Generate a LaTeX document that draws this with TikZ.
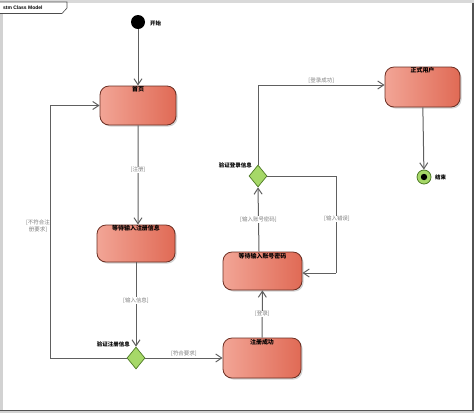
\documentclass[tikz,border=0pt]{standalone}
\usepackage{fontspec}
\newfontfamily\cjk{Noto Sans CJK SC}
\setsansfont{Liberation Sans}
\usetikzlibrary{arrows.meta,shadows,shapes.geometric}
\definecolor{stA}{HTML}{F2A596}
\definecolor{stB}{HTML}{E06A55}
\definecolor{stLine}{HTML}{6B2E22}
\definecolor{dmFill}{HTML}{A6D868}
\definecolor{dmLine}{HTML}{4E7A25}
\definecolor{edge}{HTML}{606060}
\definecolor{lbl}{HTML}{808080}
\tikzset{
  x=1bp,y=-1bp,
  state/.style={draw=stLine, line width=0.8bp, rounded corners=9bp, left color=stA, right color=stB,
    drop shadow={shadow xshift=1.5bp, shadow yshift=-1.5bp, opacity=0.35}, inner sep=0pt},
  stname/.style={font=\cjk\bfseries\fontsize{6}{7}\selectfont, inner sep=1pt, anchor=north},
  decision/.style={diamond, draw=dmLine, fill=dmFill, line width=0.7bp, minimum width=18bp, minimum height=22bp, inner sep=0pt, aspect=0.8},
  flow/.style={draw=edge, line width=1bp, -{Straight Barb[length=6bp,width=8bp]}},
  plain/.style={draw=edge, line width=1bp},
  guard/.style={font=\cjk\fontsize{5.5}{7}\selectfont, text=lbl, fill=white, inner sep=0.5pt},
  nodelbl/.style={font=\cjk\bfseries\fontsize{5.5}{7}\selectfont, inner sep=0pt},
}
\begin{document}
\begin{tikzpicture}
\useasboundingbox (0,0) rectangle (474,413);
% frame
\fill[gray!35] (0,0) rectangle (474,413);
\fill[gray!20!black!75] (0,0) rectangle (474,411);
\fill[gray!35] (0,0) rectangle (472,409.5);
\fill[white] (2.5,2.5) rectangle (471.5,409.5);
\fill[gray!30] (0,0) rectangle (474,2.5);
\draw[black!70, line width=0.6bp, fill=white] (0,2) -- (67,2) -- (67,8) -- (62,13.5) -- (0,13.5);
\node[font=\sffamily\bfseries\fontsize{5}{6}\selectfont, anchor=west, inner sep=0pt] (title) at (3,7.5) {stm Class Model};

% start / end
\node[circle, fill=black, minimum size=14bp, inner sep=0pt] (start) at (138,22) {};
\node[nodelbl, anchor=west] (startl) at (150,23) {开始};
\node[circle, draw=dmLine, fill=dmFill, line width=0.8bp, minimum size=14bp, inner sep=0pt] (end) at (424,177) {};
\fill[black] (end.center) circle (3.2bp);
\node[nodelbl, anchor=west] (endl) at (435,177) {结束};

% states
\node[state, minimum width=76bp, minimum height=39bp] (home) at (138,105.5) {};
\node[stname] at (home.north) {首页};
\node[state, minimum width=78bp, minimum height=37bp] (wreg) at (136,243.5) {};
\node[stname] at (wreg.north) {等待输入注册信息};
\node[state, minimum width=78bp, minimum height=40bp] (regok) at (262,358) {};
\node[stname] at (regok.north) {注册成功};
\node[state, minimum width=79bp, minimum height=38bp] (wlog) at (262.5,271) {};
\node[stname] at (wlog.north) {等待输入账号密码};
\node[state, minimum width=75bp, minimum height=40bp] (user) at (422.5,87) {};
\node[stname] at (user.north) {正式用户};

% decisions
\node[decision] (dreg) at (136,358) {};
\node[nodelbl, anchor=east] (dregl) at (130,344) {验证注册信息};
\node[decision] (dlog) at (258,176) {};
\node[nodelbl, anchor=east] (dlogl) at (252,165) {验证登录信息};

% connectors
\draw[flow] (start) -- (home);
\draw[flow] (home.south -| wreg.north) ++(2,0) -- ([xshift=2bp]wreg.north) node[guard, pos=0.45] {[注册]};
\draw[flow] (wreg) -- (dreg) node[guard, pos=0.45] {[输入信息]};
\draw[flow] (dreg) -- (regok) node[guard, midway, above=1pt] {[符合要求]};
\coordinate (bl) at (50,358);
\coordinate (tl) at (50,105.5);
\draw[plain] (dreg.west) -- (bl) -- (tl);
\draw[flow] (tl) -- (home.west);
\node[guard, align=center] (gnot) at (38,226) {[不符合注\\册要求]};
\draw[flow] (regok) -- (wlog) node[guard, midway] {[登录]};
\draw[flow] ([xshift=-3.5bp]wlog.north) -- (dlog.south) node[guard, midway] {[输入账号密码]};
\coordinate (r1) at (336,176);
\coordinate (r2) at (336,273);
\draw[plain] (dlog.east) -- (r1) -- (r2);
\draw[flow] (r2) -- (wlog.east |- r2);
\node[guard] (gerr) at (337,219) {[输入错误]};
\coordinate (t1) at (258,85);
\draw[plain] (dlog.north) -- (t1);
\draw[flow] (t1) -- (user.west |- t1) node[guard, midway, above=1pt] {[登录成功]};
\draw[flow] (user) -- (end);
\end{tikzpicture}
\end{document}
